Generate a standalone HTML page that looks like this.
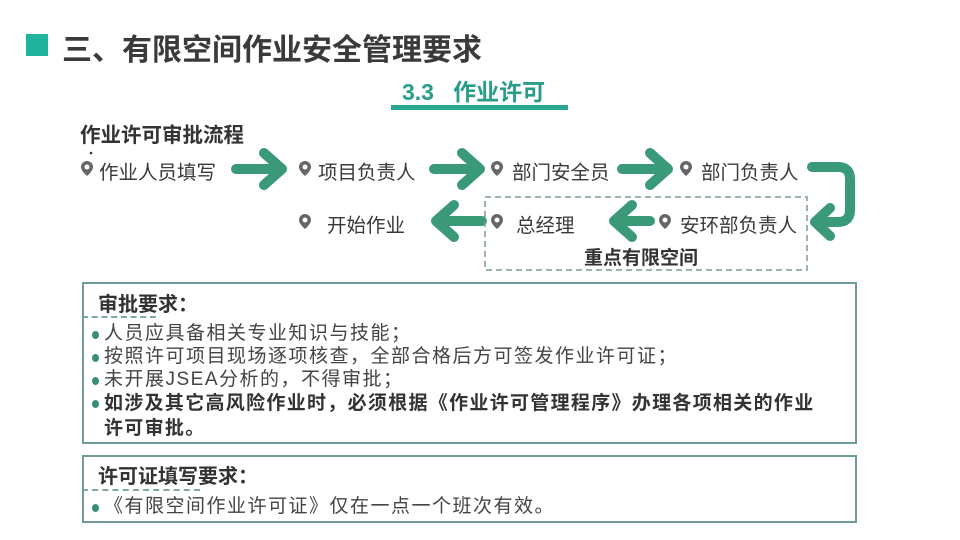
<!DOCTYPE html>
<html><head><meta charset="utf-8"><style>
body{margin:0;width:960px;height:540px;background:#fff;position:relative;overflow:hidden;font-family:"Liberation Sans","Noto Sans CJK SC",sans-serif;color:#3a3a3a}
.a{position:absolute;white-space:nowrap}
.b{font-weight:bold}
.box{position:absolute;border:2px solid #6f9a98;box-sizing:border-box}
.li{position:absolute;left:20px;font-size:19px;line-height:23px;color:#444;letter-spacing:1.5px}
.li:before{content:"";position:absolute;left:-12px;top:9px;width:7px;height:8px;border-radius:50%;background:#3a8f72}
.ul{position:absolute;border-top:2px dashed #7fa8a5}
.f{font-size:19.5px}
</style></head><body>
<div class="a" style="left:26px;top:34px;width:22px;height:22px;background:#1fb39b"></div>
<div class="a b" style="left:62px;top:25px;font-size:30px;color:#3a3a3a">三、有限空间作业安全管理要求</div>
<div class="a b" style="left:402px;top:73px;font-size:23px;color:#2a9d8a">3.3&nbsp;&nbsp;&nbsp;作业许可</div>
<div class="a" style="left:391px;top:105px;width:177px;height:5px;background:#2aa58f"></div>
<div class="a b" style="left:80px;top:118px;font-size:20.5px;color:#333">作业许可审批流程</div>

<svg class="a" style="left:0;top:0" width="960" height="540">
<defs><g id="pin"><path d="M0,-7 a6,6 0 0 1 6,6 c0,4 -6,9 -6,9 c0,0 -6,-5 -6,-9 a6,6 0 0 1 6,-6z" fill="#666"/><circle cx="0" cy="-1" r="2.5" fill="#fff"/></g></defs>
<use href="#pin" x="87" y="168"/><circle cx="91" cy="153" r="1.3" fill="#333"/>
<use href="#pin" x="305" y="168"/><use href="#pin" x="497" y="168"/><use href="#pin" x="686" y="168"/>
<use href="#pin" x="305" y="221"/><use href="#pin" x="497" y="221"/><use href="#pin" x="665" y="221"/>
<g stroke="#3a9a78" stroke-width="10" stroke-linecap="round" stroke-linejoin="round" fill="none">
<path d="M236,169H280M264,153L282,169L264,185"/>
<path d="M434,169H478M462,153L480,169L462,185"/>
<path d="M622,169H666M650,153L668,169L650,185"/>
<path d="M482,221H438M454,205L436,221L454,237"/>
<path d="M650,221H616M632,205L614,221L632,237"/>
<path d="M812,167H838Q850,167 850,179V210Q850,222 838,222H816M830,208L815,222L830,236"/>
</g>
<rect x="485" y="197" width="322" height="73" fill="none" stroke="#7a9a98" stroke-width="1.5" stroke-dasharray="6,4"/>
</svg>
<div class="a f" style="left:99px;top:156px">作业人员填写</div>
<div class="a f" style="left:318px;top:156px">项目负责人</div>
<div class="a f" style="left:512px;top:156px">部门安全员</div>
<div class="a f" style="left:701px;top:156px">部门负责人</div>
<div class="a f" style="left:327px;top:209px">开始作业</div>
<div class="a f" style="left:516px;top:209px">总经理</div>
<div class="a f" style="left:680px;top:209px">安环部负责人</div>
<div class="a b" style="left:584px;top:243px;font-size:19px;color:#333">重点有限空间</div>

<div class="box" style="left:82px;top:282px;width:775px;height:162px">
<div class="a b" style="left:14px;top:4px;font-size:20px;color:#333">审批要求：</div>
<div class="ul" style="left:-2px;top:32px;width:74px"></div>
<div class="li" style="top:38px">人员应具备相关专业知识与技能；</div>
<div class="li" style="top:61px">按照许可项目现场逐项核查，全部合格后方可签发作业许可证；</div>
<div class="li" style="top:84px">未开展JSEA分析的，不得审批；</div>
<div class="li b" style="top:107px;line-height:25px;color:#333;letter-spacing:1.3px">如涉及其它高风险作业时，必须根据《作业许可管理程序》办理各项相关的作业<br>许可审批。</div>
</div>
<div class="box" style="left:82px;top:455px;width:775px;height:68px">
<div class="a b" style="left:14px;top:3px;font-size:20px;color:#333">许可证填写要求：</div>
<div class="ul" style="left:-2px;top:32px;width:118px"></div>
<div class="li" style="top:38px">《有限空间作业许可证》仅在一点一个班次有效。</div>
</div>
</body></html>
